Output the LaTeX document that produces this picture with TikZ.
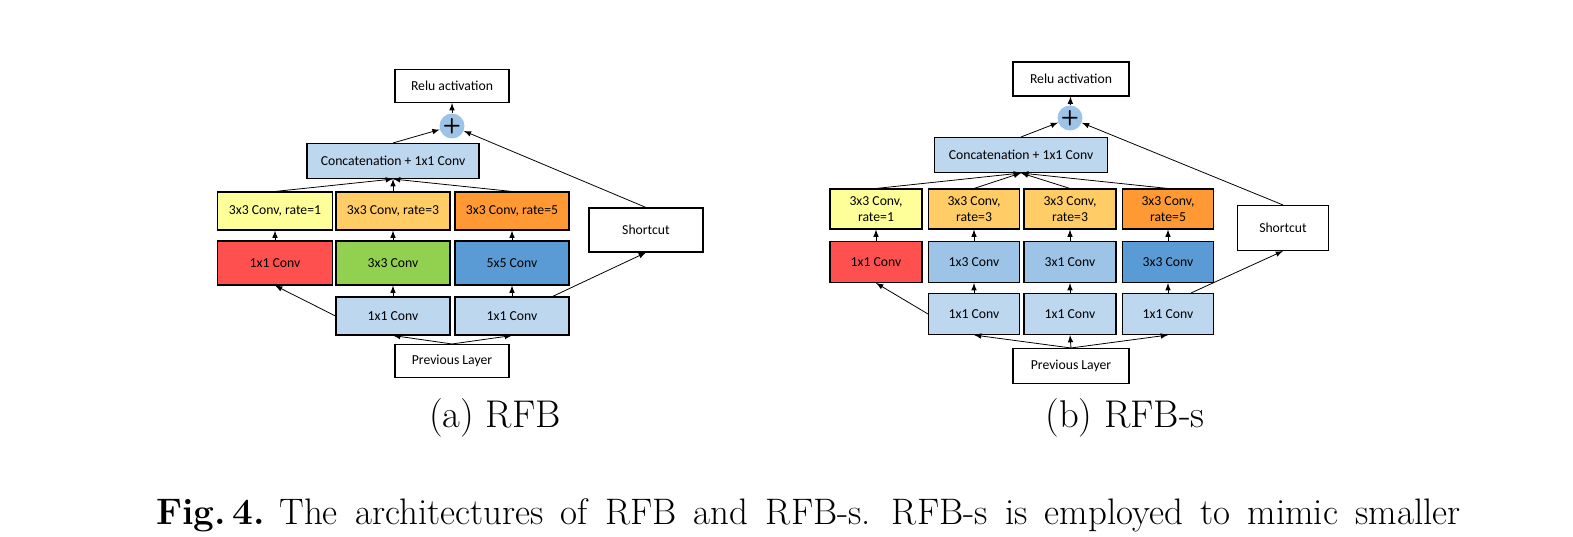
\documentclass[tikz,border=0pt]{standalone}
\usepackage{fontspec}
\newfontfamily\boxfont{Carlito}
\usepackage{tikz}
\usetikzlibrary{arrows}

\definecolor{cyellow}{HTML}{FFFF99}
\definecolor{clorange}{HTML}{FFCC66}
\definecolor{corange}{HTML}{FF9933}
\definecolor{cred}{HTML}{FF5050}
\definecolor{cgreen}{HTML}{92D050}
\definecolor{cblue}{HTML}{5B9BD5}
\definecolor{clblue}{HTML}{BDD7EE}
\definecolor{cmblue}{HTML}{9DC3E6}

\tikzset{
  blk/.style 2 args={draw, line width=0.6pt, inner sep=0pt, font=\boxfont\fontsize{7.8}{9.5}\selectfont,
    align=center, minimum width=#1*0.02cm, minimum height=#2*0.02cm},
  flow/.style={->, >=latex, line width=0.45pt},
  plus/.style={circle, fill=cmblue, inner sep=0pt, minimum size=0.5cm, font=\sffamily\bfseries\large}
}

\begin{document}
\begin{tikzpicture}[x=0.02cm, y=-0.02cm]
\useasboundingbox (0,0) rectangle (1573,537);

% RFB
\node[blk={114}{33}] (aRelu) at (452,86) {Relu activation};
\node[plus] (aPlus) at (452,126) {+};
\node[blk={172}{35}, fill=clblue] (aCat) at (393,161) {Concatenation + 1x1 Conv};
\node[blk={115}{38}, fill=cyellow] (aR1) at (275,211) {3x3 Conv, rate=1};
\node[blk={114}{38}, fill=clorange] (aR3) at (393,211) {3x3 Conv, rate=3};
\node[blk={114}{38}, fill=corange] (aR5) at (512,211) {3x3 Conv, rate=5};
\node[blk={115}{44}, fill=cred] (aC1) at (275,263) {1x1 Conv};
\node[blk={114}{44}, fill=cgreen] (aC3) at (393,263) {3x3 Conv};
\node[blk={114}{44}, fill=cblue] (aC5) at (512,263) {5x5 Conv};
\node[blk={114}{38}, fill=clblue] (aB1) at (393,316) {1x1 Conv};
\node[blk={114}{38}, fill=clblue] (aB2) at (512,316) {1x1 Conv};
\node[blk={114}{33}] (aPrev) at (452,361) {Previous Layer};
\node[blk={114}{44}] (aShort) at (646,230) {Shortcut};
\node[font=\fontsize{22}{26}\selectfont] (aCap) at (495,418) {(a) RFB};

\draw[flow] (aPrev.north) -- (aB1.south);
\draw[flow] (aPrev.north) -- (aB2.south);
\draw[flow] (aB1.west) -- (aC1.south);
\draw[flow] (aB1) -- (aC3);
\draw[flow] (aB2) -- (aC5);
\draw[flow] (aB2.north east) ++(-17,0) coordinate (aS) -- (aShort.south);
\draw[flow] (aC1) -- (aR1);
\draw[flow] (aC3) -- (aR3);
\draw[flow] (aC5) -- (aR5);
\foreach \n in {aR1,aR3,aR5} \draw[flow] (\n.north) -- (aCat.south);
\draw[flow] (aCat.north) -- (aPlus);
\draw[flow] (aShort.north) -- (aPlus);
\draw[flow] (aPlus) -- (aRelu);

% RFB-s
\node[blk={116}{34}] (bRelu) at (1071,79) {Relu activation};
\node[plus] (bPlus) at (1070,118) {+};
\node[blk={173}{35}, fill=clblue] (bCat) at (1021,155) {Concatenation + 1x1 Conv};
\node[blk={92}{40}, fill=cyellow] (bR1) at (876,209) {3x3 Conv,\\rate=1};
\node[blk={91}{40}, fill=clorange] (bR2) at (974,209) {3x3 Conv,\\rate=3};
\node[blk={92}{40}, fill=clorange] (bR3) at (1070,209) {3x3 Conv,\\rate=3};
\node[blk={91}{40}, fill=corange] (bR4) at (1168,209) {3x3 Conv,\\rate=5};
\node[blk={92}{41}, fill=cred] (bC1) at (876,262) {1x1 Conv};
\node[blk={91}{41}, fill=cmblue] (bC2) at (974,262) {1x3 Conv};
\node[blk={92}{41}, fill=cmblue] (bC3) at (1070,262) {3x1 Conv};
\node[blk={91}{41}, fill=cblue] (bC4) at (1168,262) {3x3 Conv};
\node[blk={91}{41}, fill=clblue] (bB1) at (974,314) {1x1 Conv};
\node[blk={92}{41}, fill=clblue] (bB2) at (1070,314) {1x1 Conv};
\node[blk={91}{41}, fill=clblue] (bB3) at (1168,314) {1x1 Conv};
\node[blk={116}{35}] (bPrev) at (1071,366) {Previous Layer};
\node[blk={91}{45}] (bShort) at (1283,228) {Shortcut};
\node[font=\fontsize{22}{26}\selectfont] (bCap) at (1125,418) {(b) RFB-s};

\foreach \n in {bB1,bB2,bB3} \draw[flow] (bPrev.north) -- (\n.south);
\draw[flow] (bB1.west) -- (bC1.south);
\draw[flow] (bB1) -- (bC2);
\draw[flow] (bB2) -- (bC3);
\draw[flow] (bB3) -- (bC4);
\draw[flow] (bB3.north east) ++(-23,0) coordinate (bS) -- (bShort.south);
\draw[flow] (bC1) -- (bR1);
\draw[flow] (bC2) -- (bR2);
\draw[flow] (bC3) -- (bR3);
\draw[flow] (bC4) -- (bR4);
\foreach \n in {bR1,bR2,bR3,bR4} \draw[flow] (\n.north) -- (bCat.south);
\draw[flow] (bCat.north) -- (bPlus);
\draw[flow] (bShort.north) -- (bPlus);
\draw[flow] (bPlus) -- (bRelu);

% caption
\node[anchor=west, font=\fontsize{21}{25}\selectfont] (figCap) at (150,515)
  {\textbf{Fig.\,4.} The\, architectures\, of\, RFB\, and\, RFB-s.\, RFB-s\, is\, employed\, to\, mimic\, smaller};
\end{tikzpicture}
\end{document}
